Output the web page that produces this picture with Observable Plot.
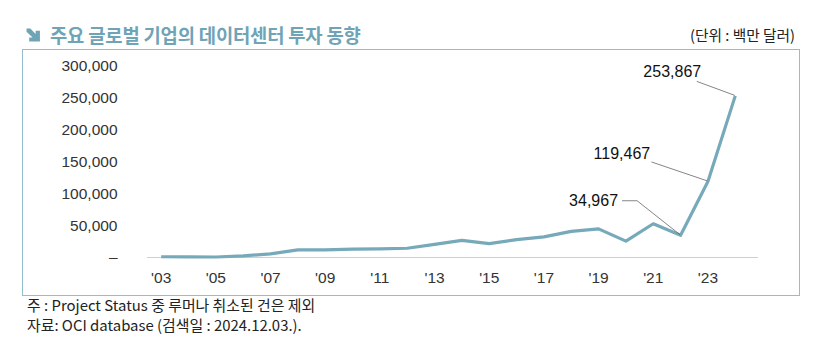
<!DOCTYPE html>
<html>
<head>
<meta charset="utf-8">
<script src="https://cdn.jsdelivr.net/npm/d3@7"></script>
<script src="https://cdn.jsdelivr.net/npm/@observablehq/plot@0.6"></script>
<style>
  html, body { margin: 0; padding: 0; background: #fff; }
  body { width: 826px; height: 355px; position: relative; overflow: hidden; font-family: "Noto Sans CJK KR", "Noto Sans", sans-serif; }
  #title { position: absolute; left: 26px; top: 21px; font-size: 18.8px; font-weight: 700; color: #6fa3b6; display: flex; align-items: center; white-space: nowrap; letter-spacing: -0.2px; }
  #title svg { margin-right: 9px; }
  #unit { position: absolute; right: 31px; top: 24px; font-size: 14.7px; color: #222; white-space: nowrap; }
  #box { position: absolute; left: 22px; top: 49px; width: 776px; height: 245px; border: 1.5px solid #93bfcd; }
  #chart { position: absolute; left: 0; top: 0; }
  #notes { position: absolute; left: 27px; top: 295px; font-size: 14.9px; line-height: 20px; color: #222; white-space: nowrap; }
</style>
</head>
<body>
<div id="title"><svg width="15" height="14" viewBox="0 0 14 13"><path d="M0.5 0.5 L4 0.5 L9 5.5 L9 2.5 L13 2.5 L13 12.5 L3 12.5 L3 8.8 L6.2 8.8 L0.5 3.5 Z" fill="#6fa3b6"/></svg>주요 글로벌 기업의 데이터센터 투자 동향</div>
<div id="unit">(단위 : 백만 달러)</div>
<div id="box"><div id="chart"></div></div>
<div id="notes">주 : Project Status 중 루머나 취소된 건은 제외<br>자료: OCI database (검색일 : 2024.12.03.).</div>
<script>
const years = [2003,2004,2005,2006,2007,2008,2009,2010,2011,2012,2013,2014,2015,2016,2017,2018,2019,2020,2021,2022,2023,2024];
const values = [1200,1000,800,2500,5800,12000,12000,13000,13700,14500,20500,26800,21800,28000,32500,41000,45000,25700,53000,34967,119467,253867];
const yTicks = [0,50000,100000,150000,200000,250000,300000];
const xTicks = [2003,2005,2007,2009,2011,2013,2015,2017,2019,2021,2023];
const labelYears = [2022,2023,2024];
const labelValues = [34967,119467,253867];

const data = years.map((y,i)=>({year:y, value:values[i]}));
const labels = labelYears.map((y,i)=>({year:y, value:labelValues[i]}));
// label offsets (px) relative to the data point, and leader path offsets
const labelStyle = {
  2024: {dx:-63, dy:-24, path:[[-38,-14],[0,0]]},
  2023: {dx:-86, dy:-28, path:[[-56,-19],[0,0]]},
  2022: {dx:-87, dy:-34, path:[[-58,-34],[-43,-34],[0,0]]}
};

const fmt = d3.format(",");
const labelMarks = labels.map(d => Plot.text([d], {
  x: "year", y: "value", text: v => fmt(v.value),
  dx: labelStyle[d.year].dx, dy: labelStyle[d.year].dy,
  fontSize: 16, fill: "#111"
}));

const chart = Plot.plot({
  width: 776,
  height: 245,
  marginLeft: 124,
  marginRight: 41,
  marginTop: 16,
  marginBottom: 38,
  style: {fontFamily: "'Liberation Sans', Arial, sans-serif", fontSize: "15.5px", color: "#333", background: "transparent"},
  x: {domain: [2002.5, 2024.85], ticks: xTicks},
  y: {domain: [0, 300000], ticks: yTicks},
  marks: [
    Plot.ruleY([0], {stroke: "#cfcfcf", strokeWidth: 1}),
    Plot.axisY({ticks: yTicks, tickSize: 0, tickPadding: 30, label: null, tickFormat: d => d === 0 ? "–" : fmt(d), fontSize: 15.5}),
    Plot.axisX({ticks: xTicks, tickSize: 0, tickPadding: 14, label: null, tickFormat: d => "'" + String(d).slice(2), fontSize: 15.5}),
    Plot.line(data, {x: "year", y: "value", stroke: "#76a9ba", strokeWidth: 3.2, strokeLinejoin: "round", strokeLinecap: "butt"}),
    (index, scales) => {
      const g = d3.create("svg:g");
      for (const d of labels) {
        const s = labelStyle[d.year];
        const px = scales.x(d.year), py = scales.y(d.value);
        const pts = s.path.map(([a,b]) => [px + a, py + b]);
        g.append("path").attr("d", d3.line()(pts)).attr("fill", "none").attr("stroke", "#666").attr("stroke-width", 0.8);
      }
      return g.node();
    },
    ...labelMarks
  ]
});
document.getElementById("chart").appendChild(chart);
</script>
</body>
</html>
